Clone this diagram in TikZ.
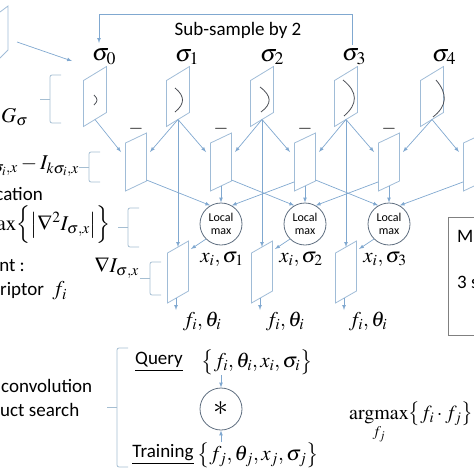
\documentclass[tikz,border=0pt]{standalone}
\usepackage{mathptmx}
\usepackage[no-math]{fontspec}
\setmainfont{Carlito}
\usetikzlibrary{calc}

\definecolor{wireblue}{RGB}{128,168,208}
\definecolor{sheetblue}{RGB}{160,188,215}
\definecolor{bracegray}{RGB}{165,190,210}
\definecolor{ringgray}{RGB}{95,110,128}
\definecolor{curvegray}{RGB}{75,78,85}

\tikzset{
  wire/.style={>=latex, ->, draw=wireblue, line width=0.7pt},
  plane/.style={draw=sheetblue, line width=0.8pt},
  brk/.style={draw=bracegray, line width=0.8pt, rounded corners=2pt},
  lmax/.style={circle, draw=ringgray, line width=0.8pt, minimum size=42pt,
    inner sep=0pt, align=center, font=\fontsize{12}{13}\selectfont},
  lbl/.style={font=\fontsize{19}{21}\selectfont, inner sep=0pt},
  eq/.style={font=\fontsize{21}{23}\selectfont, inner sep=0pt},
}

% parallelogram sheet: name, centre x, centre y, width, height, slant
\newcommand{\sheet}[6]{%
  \draw[plane] (#2-#4/2,#3-#5/2+#6/2) -- (#2+#4/2,#3-#5/2-#6/2)
    -- (#2+#4/2,#3+#5/2-#6/2) -- (#2-#4/2,#3+#5/2+#6/2) -- cycle;
  \coordinate (#1) at (#2,#3);
  \coordinate (#1-t) at (#2,#3-#5/2);
  \coordinate (#1-b) at (#2,#3+#5/2);
}
% square brace with a nub: x, top, bottom
\newcommand{\sqbrace}[3]{%
  \draw[brk] (#1+11,#2) -- (#1,#2) -- (#1,#3) -- (#1+11,#3);
  \draw[brk] (#1,{(#2+#3)/2}) -- (#1-10,{(#2+#3)/2});
}

\begin{document}
\begin{tikzpicture}[x=1pt,y=-1pt]
\useasboundingbox (0,0) rectangle (474,474);
\clip (0,0) rectangle (474,474);

% input image
\draw[plane] (0,12) -- (8,6) -- (8,50) -- (0,58);
\coordinate (img) at (17,42);
\coordinate (img-to) at (72,61);
\draw[wire] (img) -- (img-to);

% scale space
\foreach \n/\x in {0/95,1/178,2/262,3/346,4/432}
  \sheet{g\n}{\x}{96.5}{23}{46}{14};
\foreach \n/\x in {0/136,1/221,2/305,3/389,4/474}
  \sheet{d\n}{\x}{162}{21}{48}{10};
\foreach \n/\x in {1/178,2/262,3/346}
  \sheet{p\n}{\x}{272}{21}{50}{12};

% edge profiles
\draw[curvegray, line width=0.8pt] (94,95) .. controls (98,99) and (98,101) .. (94,105);
\draw[curvegray, line width=0.8pt] (175,88) .. controls (185,96) and (185,104) .. (175,112);
\draw[curvegray, line width=0.8pt] (260,87) .. controls (272,96) and (272,104) .. (261,112);
\draw[curvegray, line width=0.8pt] (343,80) .. controls (358,92) and (358,104) .. (344,116);
\draw[curvegray, line width=0.8pt] (436,80) .. controls (448,94) and (447,106) .. (433,117);

\foreach \n/\x in {0/104,1/187,2/272,3/354,4/444}
  \node[eq, font=\fontsize{24}{26}\selectfont] (s\n) at (\x,57) {$\sigma_{\n}$};

% sub-sampling loop
\coordinate (sub-from) at (352,45);
\coordinate (sub-to) at (99,43);
\draw[wire] (sub-from) -- (352,14) -| (sub-to);
\node[lbl] (sub) at (238,30) {Sub-sample by 2};

% differences
\foreach \n in {0,...,4}
  \draw[wire] (g\n-b) -- ($(d\n)+(-15,-10)$);
\foreach \n/\m in {1/0,2/1,3/2,4/3}
  \draw[wire] (g\n-b) -- ($(d\m)+(14,-10)$);
\foreach \n in {0,...,3}
  \node[lbl] at ($(d\n)+(0,-33)$) {$-$};
\foreach \n in {1,2,3}
  \draw[wire] (g\n-b) -- (p\n-t);

% extrema
\foreach \n/\x in {1/221,2/305,3/389}
  \node[lmax] (m\n) at (\x,224) {Local\\max};
\foreach \n in {1,2,3}
  \draw[wire] (d\n-b) -- (m\n);
\foreach \n/\m in {1/0,2/1,3/2}
  \draw[wire] ($(d\m)+(10.5,18)$) -- (m\n.120);
\foreach \n/\m in {1/2,2/3,3/4}
  \draw[wire] ($(d\m)+(-11,20)$) -- (m\n.60);
\foreach \n in {1,2,3}
  \draw[wire] (m\n.225) -- ($(p\n)+(13,-23)$);
\foreach \n/\x in {1/222,2/301,3/385}
  \node[eq] (k\n) at (\x,259) {$x_i,\sigma_{\n}$};

% descriptors
\foreach \n/\x in {1/202,2/285,3/368} {
  \node[eq] (o\n) at (\x,321) {$f_i,\theta_i$};
  \draw[wire] ($(p\n-b)+(-2,1)$) -- ($(p\n-b)+(-2,13)$);
}

% left column
\sqbrace{50}{75}{123}
\sqbrace{89}{152}{182}
\sqbrace{128}{208}{247}
\sqbrace{150}{262}{295}
\sqbrace{117}{348}{467}
\node[eq, anchor=west] (gs) at (1,117) {$G_\sigma$};
\node[eq, anchor=east] (dog) at (79,166) {$I_{\sigma_i,x}-I_{k\sigma_i,x}$};
\node[lbl, anchor=east] (loc) at (43,194) {cation};
\node[eq, anchor=east] (lap) at (111,225)
  {$\max\Bigl\{\bigl|\nabla^2 I_{\sigma,x}\bigr|\Bigr\}$};
\node[lbl, anchor=east] (asg) at (25,266) {nt :};
\node[lbl, anchor=west] (dsc) at (0,291) {riptor\ \ {\fontsize{21}{23}\selectfont$f_i$}};
\node[eq, anchor=east] (grad) at (139,268) {$\nabla I_{\sigma,x}$};
\node[lbl, anchor=west] (cv) at (1,386) {convolution};
\node[lbl, anchor=west] (srch) at (0,410) {uct search};

% matching
\node[lbl] (q) at (159,362) {\underline{Query}};
\node[lbl] (t) at (163,454) {\underline{Training}};
\node[eq] (qs) at (257,362) {$\bigl\{f_i,\theta_i,x_i,\sigma_i\bigr\}$};
\node[eq] (ts) at (258,455) {$\bigl\{f_j,\theta_j,x_j,\sigma_j\bigr\}$};
\node[lmax, font=\fontsize{30}{30}\selectfont] (conv) at (221,409) {$\ast$};
\draw[wire] (qs.south -| conv) -- (conv);
\draw[wire] (ts.north -| conv) -- (conv);
\node[eq, anchor=base west, font=\fontsize{20}{22}\selectfont] (am) at (349,419)
  {$\mathop{\mathrm{argmax}}\limits_{f_j}\bigl\{f_i\cdot f_j\bigr\}$};

% side box
\draw[gray, line width=0.8pt] (448,217) rectangle (480,335);
\node[lbl, anchor=west] (bx1) at (457,236) {M};
\node[lbl, anchor=west] (bx2) at (457,282) {3 s};
\end{tikzpicture}
\end{document}
